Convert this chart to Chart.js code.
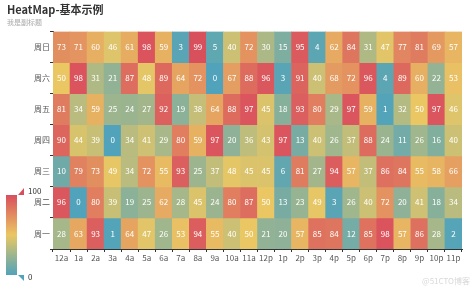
<!DOCTYPE html>
<html>
<head>
<meta charset="utf-8">
<script src="https://cdn.jsdelivr.net/npm/chart.js@4/dist/chart.umd.min.js"></script>
<style>
    html, body { margin: 0; padding: 0; background: #fff; }
    #wrap { width: 474px; height: 289px; position: relative; }
</style>
</head>
<body>
<div id="wrap"><canvas id="chart"></canvas></div>
<script>
// ---------- Data ----------
const hours = ["12a", "1a", "2a", "3a", "4a", "5a", "6a", "7a", "8a", "9a", "10a", "11a",
               "12p", "1p", "2p", "3p", "4p", "5p", "6p", "7p", "8p", "9p", "10p", "11p"];
// top to bottom
const days = ["周日", "周六", "周五", "周四", "周三", "周二", "周一"];

const sun = [73, 71, 60, 46, 61, 98, 59, 3, 99, 5, 40, 72, 30, 15, 95, 4, 62, 84, 31, 47, 77, 81, 69, 57];
const sat = [50, 98, 31, 21, 87, 48, 89, 64, 72, 0, 67, 88, 96, 3, 91, 40, 68, 72, 96, 4, 89, 60, 22, 53];
const fri = [81, 34, 59, 25, 24, 27, 92, 19, 38, 64, 88, 97, 45, 18, 93, 80, 29, 97, 59, 1, 32, 50, 97, 46];
const thu = [90, 44, 39, 0, 34, 41, 29, 80, 59, 97, 20, 36, 43, 97, 13, 40, 26, 37, 88, 24, 11, 26, 16, 40];
const wed = [10, 79, 73, 49, 34, 72, 55, 93, 25, 37, 48, 45, 45, 6, 81, 27, 94, 57, 37, 86, 84, 55, 58, 66];
const tue = [96, 0, 80, 39, 19, 25, 62, 28, 45, 24, 80, 87, 50, 13, 23, 49, 3, 26, 40, 72, 20, 41, 18, 34];
const mon = [28, 63, 93, 1, 64, 47, 26, 53, 94, 55, 40, 50, 21, 20, 57, 85, 84, 12, 85, 98, 57, 86, 28, 2];

const rows = [sun, sat, fri, thu, wed, tue, mon];

const valueMin = 0;
const valueMax = 100;
const rangeColors = ["#50a3ba", "#eac763", "#d94e5d"];

const FONT = '"Noto Sans CJK SC", "Noto Sans", sans-serif';

// ---------- Helpers ----------
function hexToRgb(h) {
    return [1, 3, 5].map(i => parseInt(h.slice(i, i + 2), 16));
}

function colorFor(v) {
    const t = (v - valueMin) / (valueMax - valueMin) * (rangeColors.length - 1);
    const i = Math.min(Math.floor(t), rangeColors.length - 2);
    const f = t - i;
    const a = hexToRgb(rangeColors[i]);
    const b = hexToRgb(rangeColors[i + 1]);
    return "rgb(" + a.map((c, k) => Math.round(c + (b[k] - c) * f)).join(",") + ")";
}

// ---------- Datasets (one floating bar row per day) ----------
const datasets = rows.map((vals, idx) => {
    const r = days.length - 1 - idx;
    return {
        label: days[idx],
        data: vals.map(() => [r, r + 1]),
        values: vals,
        backgroundColor: vals.map(colorFor),
        yAxisID: "y",
        grouped: false,
        barPercentage: 1,
        categoryPercentage: 1,
        borderWidth: 0
    };
});

// ---------- Plugins ----------
const cellLabels = {
    id: "cellLabels",
    afterDatasetsDraw(chart) {
        const ctx = chart.ctx;
        ctx.save();
        ctx.font = "8px " + FONT;
        ctx.fillStyle = "#fff";
        ctx.textAlign = "center";
        ctx.textBaseline = "middle";
        chart.data.datasets.forEach((ds, di) => {
            chart.getDatasetMeta(di).data.forEach((bar, i) => {
                const p = bar.getProps(["x", "y", "base"], true);
                ctx.fillText(String(ds.values[i]), p.x, (p.y + p.base) / 2);
            });
        });
        ctx.restore();
    }
};

const visualMap = {
    id: "visualMap",
    afterDraw(chart) {
        const ctx = chart.ctx;
        const x = 6, w = 11, top = 195, bottom = 275;
        ctx.save();
        const g = ctx.createLinearGradient(0, bottom, 0, top);
        rangeColors.forEach((c, i) => g.addColorStop(i / (rangeColors.length - 1), c));
        ctx.fillStyle = g;
        ctx.fillRect(x, top, w, bottom - top);

        // handles
        ctx.fillStyle = rangeColors[rangeColors.length - 1];
        ctx.beginPath();
        ctx.moveTo(x + w + 1, top);
        ctx.lineTo(x + w + 7, top);
        ctx.lineTo(x + w + 7, top - 7);
        ctx.closePath();
        ctx.fill();

        ctx.fillStyle = rangeColors[0];
        ctx.beginPath();
        ctx.moveTo(x + w + 1, bottom);
        ctx.lineTo(x + w + 7, bottom);
        ctx.lineTo(x + w + 7, bottom + 6);
        ctx.closePath();
        ctx.fill();

        ctx.fillStyle = "#333";
        ctx.font = "8px " + FONT;
        ctx.textAlign = "left";
        ctx.textBaseline = "middle";
        ctx.fillText(String(valueMax), x + w + 11, top - 4);
        ctx.fillText(String(valueMin), x + w + 11, bottom + 2);

        // watermark
        ctx.fillStyle = "#d8d8d8";
        ctx.font = "8px " + FONT;
        ctx.textAlign = "right";
        ctx.fillText("@51CTO博客", 470, 281);
        ctx.restore();
    }
};

// ---------- Chart ----------
new Chart(document.getElementById("chart"), {
    type: "bar",
    data: { labels: hours, datasets },
    plugins: [cellLabels, visualMap],
    options: {
        responsive: true,
        maintainAspectRatio: false,
        animation: false,
        events: [],
        layout: { padding: { left: 7, right: 12, top: 0, bottom: 20 } },
        plugins: {
            legend: { display: false },
            tooltip: { enabled: false },
            title: {
                display: true,
                text: "HeatMap-基本示例",
                align: "start",
                color: "#333",
                font: { family: FONT, size: 11, weight: "bold" },
                padding: { top: 3, bottom: 2 }
            },
            subtitle: {
                display: true,
                text: "我是副标题",
                align: "start",
                color: "#aaa",
                font: { family: FONT, size: 7 },
                padding: { top: 0, bottom: 5 }
            }
        },
        scales: {
            x: {
                type: "category",
                offset: true,
                grid: { offset: true, drawOnChartArea: false, tickLength: 3, color: "#333" },
                border: { display: true, color: "#333" },
                ticks: { color: "#555", font: { family: FONT, size: 8 }, padding: 1, maxRotation: 0, autoSkip: false },
                afterFit(scale) { scale.height = 20; }
            },
            y: {
                type: "linear",
                display: false,
                min: 0,
                max: days.length
            },
            yDays: {
                type: "category",
                axis: "y",
                position: "left",
                labels: days,
                offset: true,
                grid: { offset: true, drawOnChartArea: false, tickLength: 3, color: "#333" },
                border: { display: true, color: "#333" },
                ticks: { color: "#555", font: { family: FONT, size: 8 }, padding: 0 },
                afterFit(scale) { scale.width = 46; }
            }
        }
    }
});
</script>
</body>
</html>
